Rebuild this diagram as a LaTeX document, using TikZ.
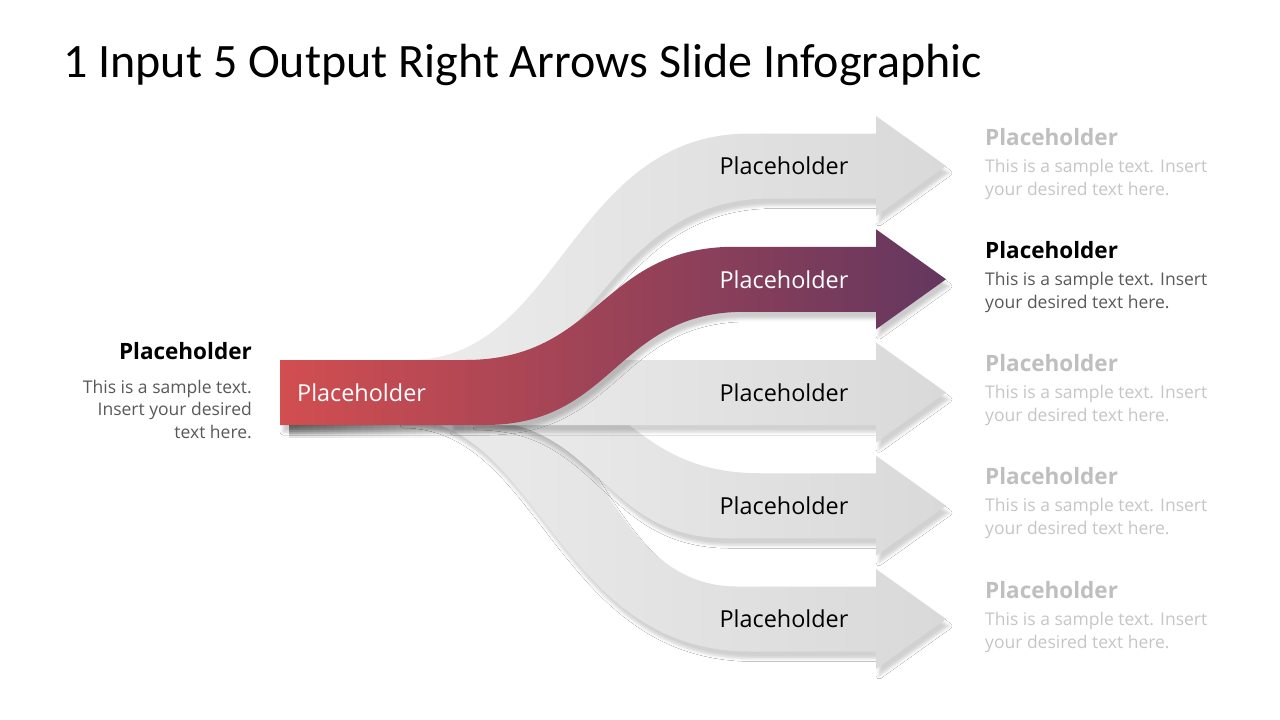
\documentclass[tikz,border=0pt]{standalone}
\usepackage{fontspec}
\setmainfont{Open Sans}
\newfontfamily\titlefont{Carlito}
\usetikzlibrary{shadows.blur,fadings}
\definecolor{bandL}{RGB}{236,236,236}
\definecolor{bandR}{RGB}{217,217,217}
\definecolor{redL}{RGB}{210,78,80}
\definecolor{redR}{RGB}{100,55,95}
\definecolor{fadeH}{RGB}{191,191,191}
\definecolor{fadeD}{RGB}{198,198,198}
\definecolor{descC}{RGB}{89,89,89}
\tikzfading[name=faderight, left color=transparent!0, right color=transparent!100]
\tikzset{
  band/.style={left color=bandL, right color=bandR,
    blur shadow={shadow xshift=3pt, shadow yshift=-7pt, shadow blur radius=3pt, shadow opacity=18}},
  redband/.style={left color=redL, right color=redR,
    blur shadow={shadow xshift=3pt, shadow yshift=-7pt, shadow blur radius=3pt, shadow opacity=20}},
  lbl/.style={font=\fontsize{23.4}{28}\selectfont, text=black, inner sep=0pt},
  hd/.style={font=\fontsize{22.5}{26}\selectfont\bfseries, inner sep=0pt, anchor=base west},
  ds/.style={font=\fontsize{17.5}{20}\selectfont, inner sep=0pt, anchor=base west},
}
\newcommand\rtext[4]{%
  \node[hd, text=#3] (#1h) at (985,{#2-21}) {Placeholder};
  \node[ds, text=#4] (#1a) at (985,{#2+6}) {This is a sample text. Insert};
  \node[ds, text=#4] (#1b) at (985,{#2+29}) {your desired text here.};
}
\begin{document}
\begin{tikzpicture}[x=1pt,y=-1pt]
\useasboundingbox (0,0) rectangle (1280,720);
\fill[white] (0,0) rectangle (1280,720);

% title
\node[anchor=base west, inner sep=0pt, font=\titlefont\fontsize{48}{58}\selectfont] (title) at (63,77) {1 Input 5 Output Right Arrows Slide Infographic};

% band 1 (top)
\path[band] (410,360) .. controls (560,360) and (570,133.5) .. (750,133.5) -- (876,133.5) -- (876,116) -- (946,166) -- (876,216) -- (876,198.5) -- (771,198.5) .. controls (591,198.5) and (581,415) .. (431,415) -- cycle;
% band 5 (bottom)
\path[band] (400,418) .. controls (540,418) and (555,651.5) .. (750,651.5) -- (876,651.5) -- (876,669) -- (946,619) -- (876,569) -- (876,586.5) -- (737,586.5) .. controls (595,586.5) and (595,366) .. (453,366) -- cycle;
% band 4
\path[band] (473,420) .. controls (600,420) and (600,538.25) .. (727,538.25) -- (876,538.25) -- (876,555.75) -- (946,505.75) -- (876,455.75) -- (876,473.25) -- (760,473.25) .. controls (622,473.25) and (622,366) .. (484,366) -- cycle;
% band 3 (straight)
\path[band] (450,360) -- (876,360) -- (876,342.5) -- (946,392.5) -- (876,442.5) -- (876,425) -- (450,425) -- cycle;

% dark shadow under the input band
\foreach \k in {2,4,...,14}
  \fill[black, opacity=0.11, path fading=faderight] (289,420) rectangle (480,{424+\k});
% red band
\path[redband] (280,360) -- (465,360) .. controls (600,360) and (600,246.75) .. (735,246.75) -- (876,246.75) -- (876,229.25) -- (946,279.25) -- (876,329.25) -- (876,311.75) -- (745,311.75) .. controls (615,311.75) and (615,425) .. (485,425) -- (280,425) -- cycle;

% arrow labels
\node[lbl] (o1) at (784,166) {Placeholder};
\node[lbl, text=white] (o2) at (784,279.25) {Placeholder};
\node[lbl] (o3) at (784,392.5) {Placeholder};
\node[lbl] (o4) at (784,505.75) {Placeholder};
\node[lbl] (o5) at (784,619) {Placeholder};
\node[lbl, text=white, anchor=west] (in) at (297,393) {Placeholder};

% right texts
\rtext{r1}{166}{fadeH}{fadeD}
\rtext{r2}{279.25}{black}{descC}
\rtext{r3}{392.5}{fadeH}{fadeD}
\rtext{r4}{505.75}{fadeH}{fadeD}
\rtext{r5}{619}{fadeH}{fadeD}

% left text
\node[hd, anchor=base east, text=black] (lh) at (252,359) {Placeholder};
\node[ds, anchor=base east, text=descC] (la) at (252,393) {This is a sample text.};
\node[ds, anchor=base east, text=descC] (lb) at (252,415.5) {Insert your desired};
\node[ds, anchor=base east, text=descC] (lc) at (252,438) {text here.};
\end{tikzpicture}
\end{document}
